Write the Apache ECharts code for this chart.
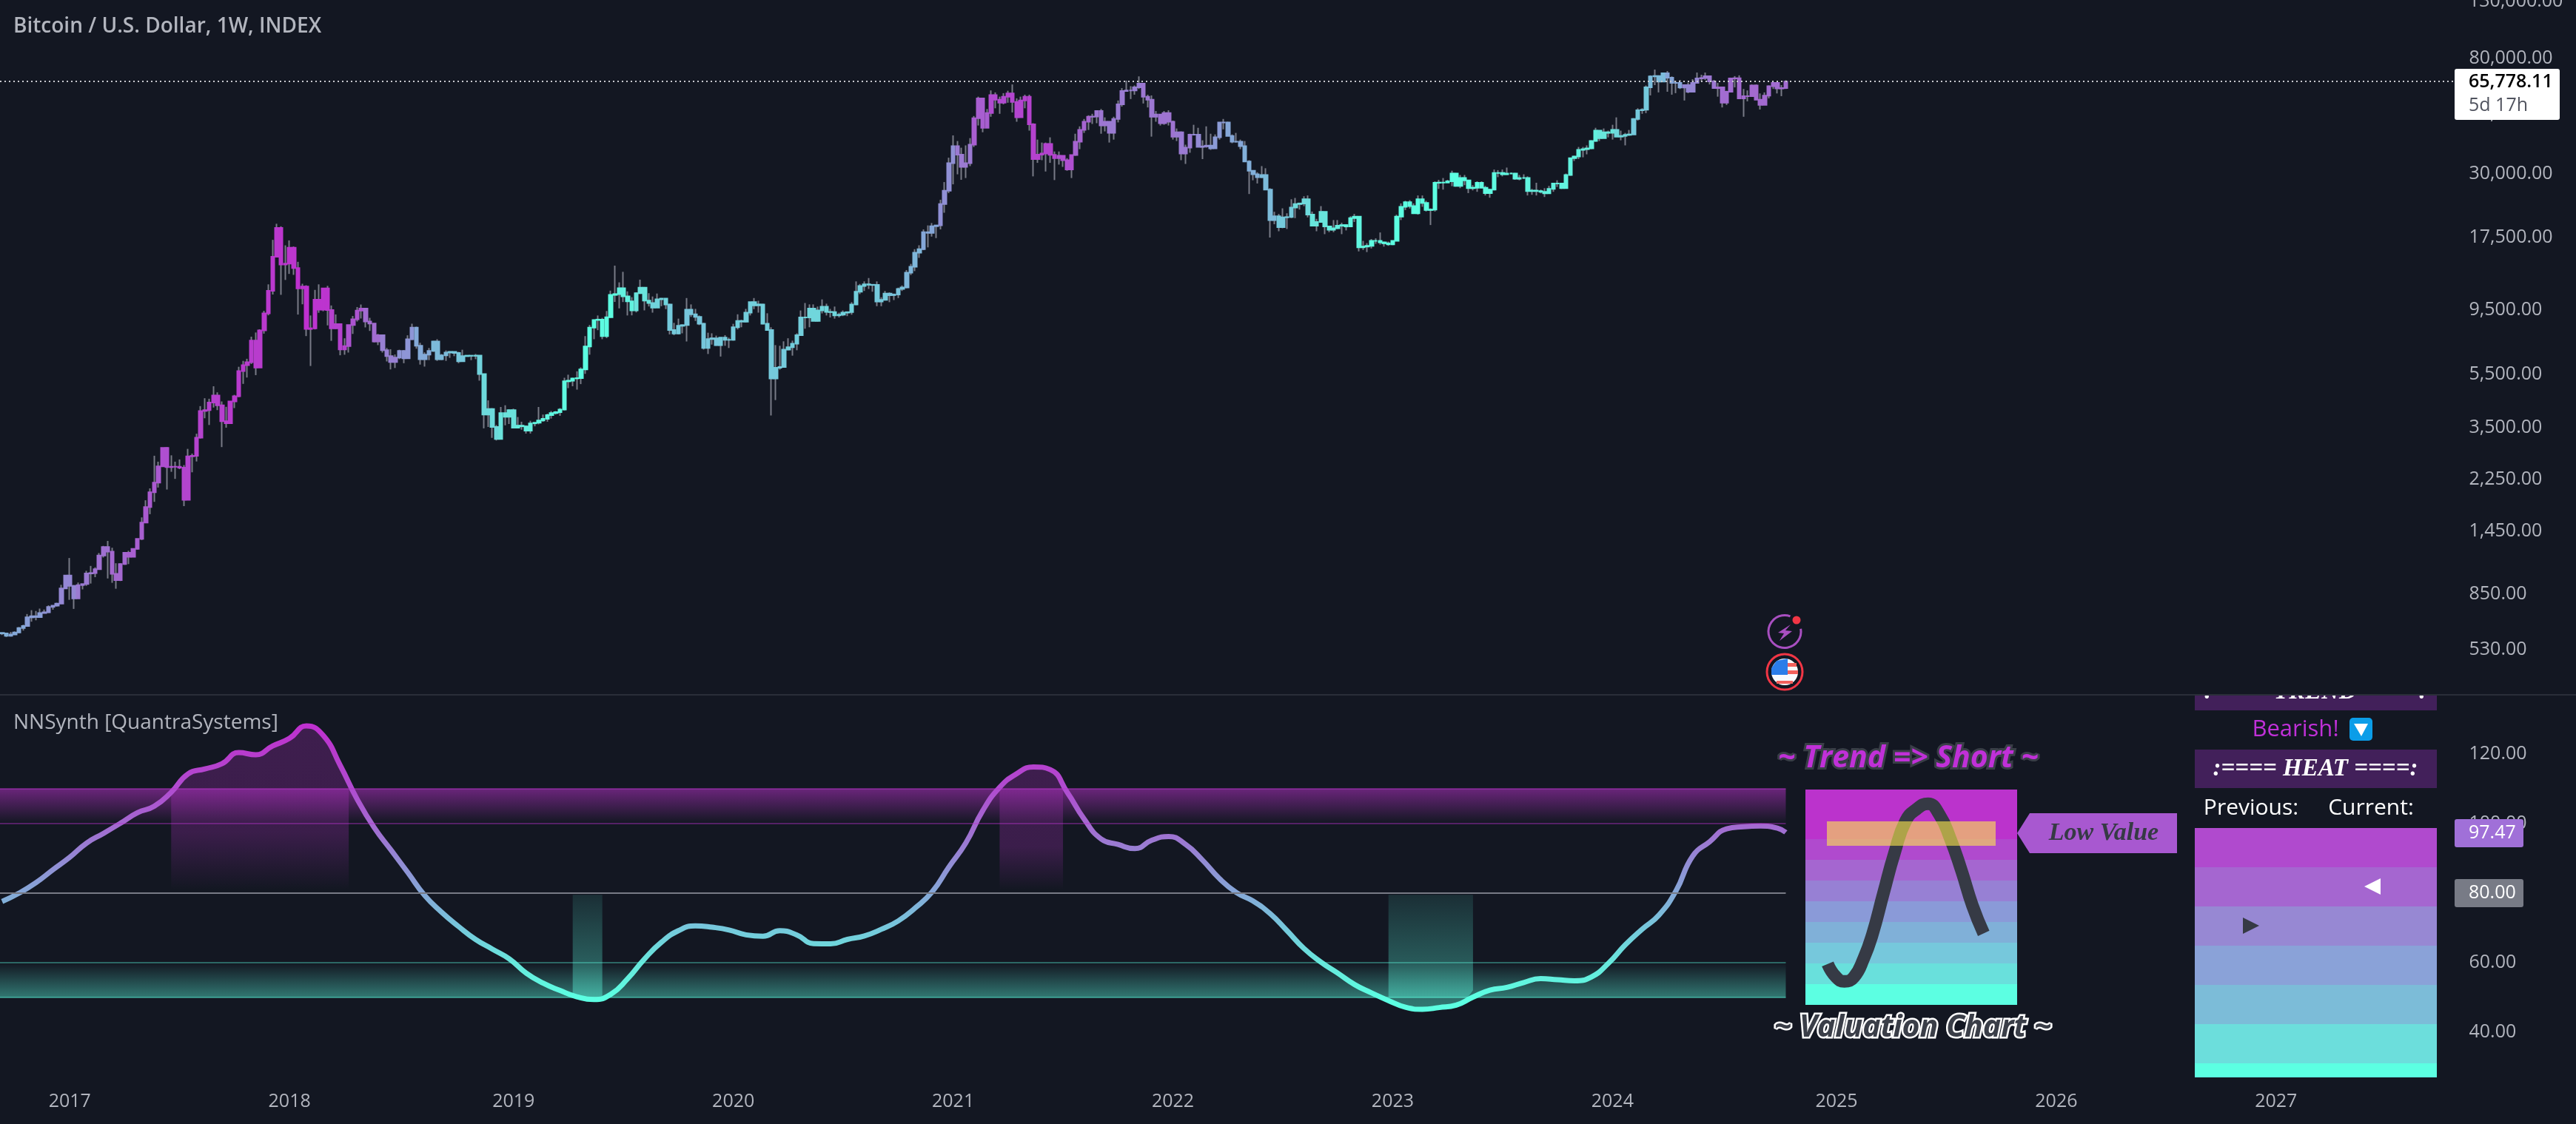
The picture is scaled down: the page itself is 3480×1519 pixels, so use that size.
<!DOCTYPE html>
<html>
<head>
<meta charset="utf-8">
<title>Bitcoin / U.S. Dollar, 1W, INDEX</title>
<script src="https://cdn.jsdelivr.net/npm/echarts@6/dist/echarts.min.js"></script>
<style>
  html, body { margin: 0; padding: 0; background: #131722; }
  #main { width: 3480px; height: 1519px; }
</style>
</head>
<body>
<div id="main"></div>
<script>
// weekly closes, highs and lows, first bar is mid Sep 2016
const closes = [
  609,597,604,614,638,649,698,705,700,724,
  729,763,771,784,892,995,912,820,918,926,
  1013,1017,1051,1179,1268,1220,1010,958,1098,1207,
  1166,1248,1358,1560,1779,2017,2188,2513,2939,2497,
  2505,2505,2486,1891,2737,2748,3207,4021,4050,4316,
  4587,4217,3684,3624,4363,4558,5640,5931,6085,7312,
  5808,7968,9206,11150,14870,19010,13930,14030,16060,13510,
  11380,11550,8060,8110,10340,9500,11380,9460,8110,8400,
  6780,6970,8330,8750,9420,9590,8590,8440,7250,7650,
  6730,6400,6090,6320,6690,6280,7390,8150,6990,6240,
  6480,6690,7250,6240,6440,6600,6640,6580,6130,6400,
  6430,6420,6430,5500,3900,4090,3510,3170,3950,3830,
  4050,3490,3550,3530,3400,3620,3640,3710,3760,3880,
  3950,3980,4070,5170,5200,5300,5310,5720,6950,8150,
  8700,8730,7590,8900,10760,10840,11390,10630,10190,9440,
  10920,11440,10250,10040,9660,10370,10430,9920,7990,7760,
  8280,8330,9500,9130,8930,8430,6860,7400,7450,7030,
  7490,7350,7350,8180,8630,8580,9260,10120,9850,9930,
  8430,7990,5300,5800,5840,6770,6900,7110,7650,8890,
  8890,9590,8630,9430,9740,9320,9300,9050,9100,9260,
  9300,9920,11060,11600,11780,11730,11710,10180,10320,10890,
  10740,10800,11320,11470,12990,13660,15390,15860,18320,18220,
  19280,19410,23260,26040,32900,38040,35400,31890,32900,38490,
  48200,57000,44420,50320,58590,56360,55020,57850,59460,55300,
  48530,56000,57850,45780,34060,35380,35730,38720,35300,34320,
  35040,33750,31180,35280,39470,43620,46770,48790,48860,51210,
  45310,46770,42540,47880,54220,60700,60950,60950,62590,64620,
  57850,56360,48790,49730,46190,50320,46770,41220,42780,35730,
  37520,41900,41900,37760,37930,38180,37330,40970,46500,46500,
  41480,39470,39470,38040,33400,30860,29940,29230,29770,26290,
  20310,20980,19110,20780,20830,22590,23250,23390,24230,21260,
  19350,19980,21790,19230,18700,18950,19350,19470,19230,20650,
  20900,16120,16220,16320,17020,17020,16810,16670,16530,17020,
  20900,22730,23630,22860,21510,24230,23490,22110,22200,27870,
  27920,27920,28210,30130,27140,29010,28460,26620,26730,27870,
  26730,25530,26290,30300,30300,29940,30130,30130,28830,29010,
  29010,25970,26080,25970,25810,25480,26440,27700,27700,26620,
  29770,34320,34840,36830,37060,37310,39700,43370,40700,42780,
  42540,43620,41220,41480,41830,42000,47880,51550,51760,62590,
  68700,68940,65800,70550,68000,64990,64990,62480,63800,60320,
  64990,67510,67780,68860,65880,62190,62590,54950,60320,67510,
  67650,57040,58100,58100,63620,56340,53930,58340,63240,64990,
  62000,62230,65778.11
];
const highs = [
  612,608,617,620,643,656,718,742,737,752,
  746,773,771,790,920,1000,1155,918,938,918,
  1036,1080,1067,1205,1280,1335,1260,1105,1105,1215,
  1228,1250,1358,1630,1885,2085,2750,2615,2939,2960,
  2760,2615,2665,2540,2915,2800,3315,4190,4480,4460,
  4958,4710,4360,4165,4363,4610,5850,6150,6260,7550,
  7825,8040,9400,11770,17170,19680,19260,16390,17090,16230,
  14250,11830,11680,9040,11230,11770,11420,11620,9840,9120,
  8450,7450,8340,9000,9710,9920,9640,8860,8450,7730,
  7660,6860,6790,6490,6760,6740,7640,8430,8220,7170,
  6610,6860,7290,7390,6520,6720,6680,6620,6640,6760,
  6440,6440,6520,6360,5510,4400,4120,3570,4160,4220,
  4080,4100,3820,3670,3560,3700,3640,4160,3900,3930,
  4020,4020,4120,5330,5470,5330,5630,5820,7590,8340,
  8740,9040,8860,9390,11160,13800,11970,13090,11090,10560,
  11010,12250,11510,10920,10620,10890,10480,10360,9990,8490,
  8800,8380,10480,9930,9560,9040,8490,7810,7770,7620,
  7490,7650,7490,8420,9130,8720,9560,10120,10480,10240,
  9990,9210,8180,7030,6990,7260,7450,7300,7770,9430,
  10050,9930,9930,9750,10360,9990,9560,9750,9260,9430,
  9330,10120,12070,11810,12070,12420,11730,12070,10550,11130,
  11000,10890,11450,11660,13290,14000,15860,16400,18760,19410,
  19800,19410,24130,28030,34470,41650,39700,37520,38270,40700,
  49090,57850,57040,52100,61000,59980,57850,59600,60830,64180,
  57040,57850,58830,58830,46190,40190,39200,39200,40970,36340,
  36340,35040,34320,35280,42240,44970,47880,49390,50020,51210,
  52100,48530,46990,48790,56000,62200,66260,63240,63620,68720,
  64990,58830,58470,51210,49730,51210,51550,47240,44170,43090,
  38490,42240,45570,44420,39950,44970,42240,42000,46500,47880,
  46770,42000,42540,40190,39700,33750,31020,30470,32100,31520,
  26620,21790,21390,22430,21510,24230,24500,23490,24860,25020,
  21830,20520,22860,19860,19350,20310,20310,19860,19620,20980,
  21390,20900,17020,16700,17290,17390,18280,16920,16920,17020,
  21260,23390,23910,24040,23390,25020,25020,23910,22430,28210,
  28570,29010,28570,30860,30300,29770,29770,28570,27310,28210,
  28210,27140,26450,31180,31020,31180,31700,30420,30300,29770,
  29940,29420,26450,27870,26290,26620,27140,27870,28460,27870,
  30130,34320,35040,37760,37760,38270,39950,44420,43370,44170,
  43370,45570,48530,43370,42540,43620,48200,52430,52430,63620,
  69320,72800,69320,70990,71890,68700,66260,66690,64180,65200,
  67090,70990,69680,70990,68860,66690,64990,62590,60830,68000,
  68860,69320,61750,61000,64180,64180,59460,59980,63620,65600,
  64990,63800,66500
];
const lows = [
  601,591,593,607,611,624,646,673,681,695,
  729,725,745,765,782,890,810,750,820,885,
  912,930,982,1050,1160,971,936,890,950,1090,
  1097,1166,1240,1345,1557,1675,1860,2100,2513,2065,
  2400,2260,2455,1794,1891,2390,2620,3183,3780,3570,
  4140,4050,2960,3490,3624,4120,4520,5060,5340,5990,
  5450,5810,7750,9050,10800,14830,10770,12220,12860,12760,
  9110,9940,7590,5890,8030,9250,9370,8310,7290,8060,
  6450,6480,6600,7730,8590,8810,8170,7930,7190,7030,
  6600,6120,5720,5790,6240,6030,6280,7340,6820,5960,
  5860,6190,6640,6150,6190,6150,6310,6400,6030,6130,
  6400,6190,6240,5200,3470,3510,3200,3130,3170,3560,
  3600,3470,3470,3430,3320,3320,3530,3590,3670,3670,
  3770,3900,3860,4040,4880,4960,4820,5050,5510,6480,
  7390,7980,7390,7460,8860,10140,9600,10130,9040,9050,
  9280,10850,9440,9760,9260,9660,9780,9540,7700,7650,
  7700,7770,7250,8930,8630,8330,6770,6520,7060,6990,
  6380,6990,6860,7300,8030,8180,8520,9040,9540,9260,
  8380,7990,3870,4410,5710,5810,6730,6430,6730,7620,
  8080,8180,8630,8580,9200,9040,8890,8800,8890,8990,
  8990,9100,9870,10840,11130,11320,11060,9780,9780,10260,
  10120,10300,10480,11130,11390,12750,13170,14740,15730,16110,
  17650,17430,18760,21610,25530,27500,29940,28570,29010,32100,
  37760,45300,42780,44700,48790,52430,50020,54220,54950,50600,
  46770,52430,52430,43370,29420,33000,33750,30660,33000,28510,
  32510,31890,30860,29010,35040,37060,42540,43620,45900,46190,
  42240,43090,39200,40190,46500,53170,60570,56700,58830,61750,
  54590,52800,41220,46770,45300,45570,45300,40200,39700,33750,
  32700,35950,41630,37760,34060,37520,36830,37310,40200,43860,
  41480,38980,39200,37060,33400,25330,28460,27700,29010,26290,
  17510,19600,18470,18950,18830,20650,20650,22200,22860,20780,
  19350,18470,19860,18020,18330,18330,18830,18020,18600,19110,
  19980,15570,15760,15480,15960,16600,16490,16210,16320,16420,
  16970,20310,22110,22400,21390,21260,22730,21840,19470,21840,
  26450,26290,27870,27080,26950,26620,27310,25530,26120,25810,
  26620,25020,24550,26120,29230,29420,29770,30000,28570,28460,
  28830,25020,25170,25020,25480,24700,25970,25810,26900,26440,
  26620,29600,33530,34060,34590,35470,37060,39470,39700,40700,
  40970,40200,41220,39950,38270,41480,42000,47240,50020,50320,
  58470,63800,59980,68000,60320,58830,59600,61750,56000,59600,
  59980,64990,65800,66690,64180,62190,57850,52800,53930,59980,
  62590,56700,48790,55600,57850,56340,51880,53930,57040,61750,
  59460,58100,61750
];

// NNSynth oscillator, one reading every 4 bars, then the last bar
const oscStep = 4;
const oscValues = [
  77.6,80,83,86.7,90.3,94.4,97.2,100.1,103.1,105,
  109,114.3,115.7,117.2,120.4,119.8,122.3,124.5,128.1,125.3,
  116.7,107,98.9,92.4,85.9,79.3,74.5,70.4,66.7,63.9,
  61.1,57,54.1,52,50.2,49.4,50.9,55.4,61.1,65.9,
  69.2,70.6,70.2,69.4,68,67.6,69.2,68,65.5,65.4,
  66.7,67.7,69.6,72,75.7,80.3,87.5,94.4,103.7,110.4,
  114.3,116.3,115.5,109,101.3,95.6,94,92.8,95.2,96.3,
  94,89.5,84.2,80.2,77.7,74.1,69.2,64.1,60.2,57,
  53.7,51.3,49.1,47.2,46.6,47.1,47.8,50.1,52.1,52.9,
  54.3,55.4,55.1,54.8,55.9,59.8,65.1,69.6,73.7,80.6,
  90.7,94.8,98.5,99.1,99.3,98.7
];
const oscLast = 97.47;
const lastBar = 422;

// shaded stretches: first bar, last bar, reading at each end
const hotZones = [[40, 82, 109, 112], [236, 251, 110.4, 110.6]];
const coldZones = [[135, 142, 51, 49.7], [328, 348, 49.1, 52.1]];
const zoneBaseHot = 81;
const zoneBaseCold = 79.5;

const yearLabels = ['2017','2018','2019','2020','2021','2022','2023','2024','2025','2026','2027'];
const yearBars = [16,68,121,173,225,277,329,381,434,486,538];
const priceTicks = [80000,50000,30000,17500,9500,5500,3500,2250,1450,850,530];
const topPriceTick = '130,000.00';
const oscTicks = [40,60,80,100,120];
const lastPrice = 65778.11;

// small valuation curve in the table, % of the box
const curveX = [10.5,14.5,18.4,22.9,27.6,31.6,36.8,42.1,47.4,52.6,57.9,63.2,68.4,73.7,78.9,84.2];
const curveY = [19,12.9,10.9,12.9,21.7,32.6,51.6,70.6,85.5,91,93.4,88.5,77.3,62.4,46.1,33.2];

const heatColors = ['#5cffe2','#68e6dc','#76c8dc','#85a8d8','#9488d4','#a468d0','#b04cd0','#b83ccd','#c02ed0'];
const valuationBands = ['#bb33cc','#b04ace','#a566d0','#9780d4','#8a9ad8','#80b0d8','#76c8dc','#69e0dc','#5cffe2'];
const valuationEdges = [1067,1134,1162,1190,1218,1246,1274,1302,1330,1358];
const heatBands = ['#b04ace','#a566d0','#9788d3','#8aa2d8','#7cbcd8','#6cdedc','#5cffe2'];
const heatEdges = [1119,1172,1225,1278,1331,1384,1437,1456];

const axisColor = '#b2b5be';
const font = '"Open Sans", "Noto Sans", sans-serif';
const slots = 581;

const categories = [];
for (let i = 0; i < slots; i++) {
  const y = yearBars.indexOf(i);
  categories.push(y >= 0 ? yearLabels[y] : '');
}

function oscAt(i) {
  const k = Math.min(Math.round(i / oscStep), oscValues.length - 1);
  return oscValues[k];
}
function heatColor(v) {
  const t = Math.max(0, Math.min(1, (v - 50) / 80));
  return echarts.color.lerp(t, heatColors);
}

const wicks = [];
const bodies = [];
closes.forEach((c, i) => {
  const o = i ? closes[i - 1] : c * 1.005;
  const col = heatColor(oscAt(i));
  wicks.push([o, c, lows[i], highs[i]]);
  bodies.push({
    value: [o, c, Math.min(o, c), Math.max(o, c)],
    itemStyle: { color: col, color0: col, borderColor: col, borderColor0: col }
  });
});

const oscLine = oscValues.map((v, k) => [k * oscStep, v]);
oscLine.push([lastBar, oscLast]);

function zoneData(z) {
  const d = [[z[0], z[2]]];
  oscValues.forEach((v, k) => {
    const b = k * oscStep;
    if (b > z[0] && b < z[1]) d.push([b, v]);
  });
  d.push([z[1], z[3]]);
  return d;
}
function grad(stops) {
  return new echarts.graphic.LinearGradient(0, 0, 0, 1, stops.map(s => ({ offset: s[0], color: s[1] })));
}
function zoneSeries(z, base, stops) {
  return {
    type: 'line', xAxisIndex: 1, yAxisIndex: 1, data: zoneData(z), smooth: true,
    showSymbol: false, silent: true, z: 1,
    lineStyle: { width: 0, opacity: 0 },
    areaStyle: { origin: base, color: grad(stops), opacity: 1 }
  };
}
function level(v, color) {
  return [{ x: 0, yAxis: v, lineStyle: { color, width: 2, type: 'solid' } }, { coord: [lastBar, v] }];
}

function text(str, x, y, size, fill, extra) {
  return {
    type: 'text', z: 30, silent: true,
    style: Object.assign({ text: str, x, y, fill, font: size + 'px ' + font, textAlign: 'center', textVerticalAlign: 'middle' }, extra || {})
  };
}
function rect(x, y, w, h, fill, z, r) {
  return { type: 'rect', z: z || 1, silent: true, shape: { x, y, width: w, height: h, r: r || 0 }, style: { fill } };
}
function poly(points, fill, z) {
  return { type: 'polygon', z: z || 30, silent: true, shape: { points }, style: { fill } };
}
function leftText(str, x, y, size, fill, weight) {
  return text(str, x, y, size, fill, { textAlign: 'left', font: (weight ? weight + ' ' : '') + size + 'px ' + font });
}

const graphics = [];

// valuation box on the left
valuationBands.forEach((c, i) => {
  graphics.push(rect(2439, valuationEdges[i], 286, valuationEdges[i + 1] - valuationEdges[i], c, 1));
});
graphics.push(rect(2468, 1110, 228, 33, 'rgba(255,233,77,0.6)', 5));
graphics.push(text('~ Trend => Short ~', 2578, 1025, 41, '#c030d8', {
  font: 'italic bold 41px ' + font, stroke: '#3a3e48', lineWidth: 6
}));
graphics.push(text('~ Valuation Chart ~', 2584, 1389, 41, '#3a3e48', {
  font: 'italic bold 41px ' + font, stroke: '#ffffff', lineWidth: 5
}));
graphics.push(poly([[2725, 1126], [2742, 1099], [2941, 1099], [2941, 1153], [2742, 1153]], '#a858d0'));
graphics.push(text('Low Value', 2842, 1126, 34, '#363a45', {
  font: 'italic bold 34px "Liberation Serif", serif'
}));

// right hand heat table
graphics.push(rect(2965, 939, 327, 21, '#42205a', 20));
graphics.push(text(':==== TREND ====:', 3128, 935, 33, '#ffffff', {
  font: 'italic bold 33px "Liberation Serif", serif'
}));
graphics.push(rect(2965, 895, 327, 44, '#131722', 32));
graphics.push(text('Bearish!', 3101, 986, 31, '#c030d8'));
graphics.push(rect(3174, 970, 31, 31, '#0b9de8', 30, 5));
graphics.push(poly([[3180, 978], [3199, 978], [3190, 995]], '#ffffff', 31));
graphics.push(rect(2965, 1013, 327, 52, '#42205a', 20));
graphics.push(text(':==== HEAT ====:', 3128, 1039, 33, '#ffffff', {
  font: 'italic bold 33px "Liberation Serif", serif'
}));
graphics.push(text('Previous:', 3041, 1092, 30, '#ffffff'));
graphics.push(text('Current:', 3203, 1092, 30, '#ffffff'));
heatBands.forEach((c, i) => {
  graphics.push(rect(2965, heatEdges[i], 327, heatEdges[i + 1] - heatEdges[i], c, 1));
});
graphics.push(poly([[3194, 1198], [3216, 1187], [3216, 1209]], '#ffffff'));
graphics.push(poly([[3052, 1251], [3030, 1240], [3030, 1262]], '#363a45'));

// labels on the right axes
graphics.push(leftText(topPriceTick, 3335, 2, 25, axisColor));
graphics.push(rect(3316, 93, 142, 69, '#ffffff', 40, 3));
graphics.push(Object.assign(leftText('65,778.11', 3335, 111, 25, '#000000', 600), { z: 41 }));
graphics.push(Object.assign(leftText('5d 17h', 3335, 143, 25, '#50535e'), { z: 41 }));
graphics.push(rect(3316, 1107, 93, 38, '#a070d8', 40, 3));
graphics.push(Object.assign(leftText('97.47', 3335, 1126, 25, '#ffffff'), { z: 41 }));
graphics.push(rect(3316, 1188, 93, 38, '#787b86', 40, 3));
graphics.push(Object.assign(leftText('80.00', 3335, 1207, 25, '#ffffff'), { z: 41 }));

// pane separator
graphics.push({
  type: 'line', z: 33, silent: true,
  shape: { x1: 0, y1: 939, x2: 3480, y2: 939 }, style: { stroke: '#2a2e39', lineWidth: 2 }
});

// pane titles
graphics.push(leftText('Bitcoin / U.S. Dollar, 1W, INDEX', 18, 36, 28, axisColor, 600));
graphics.push(leftText('NNSynth [QuantraSystems]', 18, 977, 28, axisColor));

// event icons
graphics.push({
  type: 'arc', z: 30, silent: true,
  shape: { cx: 2411, cy: 853.5, r: 22, startAngle: -0.17, endAngle: 5.06 },
  style: { stroke: '#a84fc0', lineWidth: 3, fill: 'none' }
});
graphics.push(poly([[2419, 844], [2402, 855], [2410, 856], [2404, 866], [2421, 853], [2412, 852]], '#a84fc0'));
graphics.push({ type: 'circle', z: 30, silent: true, shape: { cx: 2427, cy: 838, r: 5.5 }, style: { fill: '#f23645' } });
graphics.push({ type: 'circle', z: 30, silent: true, shape: { cx: 2411, cy: 908, r: 24 }, style: { fill: 'none', stroke: '#f23645', lineWidth: 3 } });
graphics.push({ type: 'circle', z: 30, silent: true, shape: { cx: 2411, cy: 908, r: 18 }, style: { fill: '#f8f9fd' } });
graphics.push(poly([[2400, 893], [2415, 890], [2415, 912], [2393, 912], [2393, 903]], '#2b7de9', 31));
graphics.push(rect(2415, 896, 12, 5, '#f2605c', 31));
graphics.push(rect(2415, 906, 14, 5, '#f2605c', 31));
graphics.push(rect(2400, 920, 22, 4, '#f2605c', 31));

const chart = echarts.init(document.getElementById('main'), null, { renderer: 'canvas' });
chart.setOption({
  animation: false,
  backgroundColor: '#131722',
  textStyle: { fontFamily: font },
  grid: [
    { left: 0, top: 6.77, width: 3317.5, height: 953.7 },
    { left: 0, top: 925, width: 3317.5, height: 564 },
    { left: 2439, top: 1067, width: 286, height: 291 }
  ],
  xAxis: [
    { type: 'category', gridIndex: 0, data: categories, show: false },
    {
      type: 'category', gridIndex: 1, data: categories,
      axisLine: { show: false }, axisTick: { show: false }, splitLine: { show: false },
      axisLabel: {
        color: axisColor, fontSize: 25, fontFamily: font, margin: 0, verticalAlign: 'middle',
        padding: [2, 0, 0, 0],
        interval: (i, v) => v !== '', hideOverlap: false
      }
    },
    { type: 'value', gridIndex: 2, min: 0, max: 100, show: false }
  ],
  yAxis: [
    {
      type: 'log', gridIndex: 0, position: 'right', min: 316.2278, max: 125892.5,
      axisLine: { show: false }, axisTick: { show: false }, splitLine: { show: false },
      axisLabel: {
        customValues: priceTicks, color: axisColor, fontSize: 25, fontFamily: font, margin: 18,
        padding: [4, 0, 0, 0],
        formatter: v => Number(v).toLocaleString('en-US', { minimumFractionDigits: 2, maximumFractionDigits: 2 })
      }
    },
    {
      type: 'value', gridIndex: 1, position: 'right', min: 20, max: 140, interval: 20,
      axisLine: { show: false }, axisTick: { show: false }, splitLine: { show: false },
      axisLabel: {
        customValues: oscTicks, color: axisColor, fontSize: 25, fontFamily: font, margin: 18,
        padding: [4, 0, 0, 0],
        formatter: v => Number(v).toFixed(2)
      }
    },
    { type: 'value', gridIndex: 2, min: 0, max: 100, show: false }
  ],
  visualMap: {
    show: false, type: 'continuous', seriesIndex: 7, dimension: 1,
    min: 50, max: 130, inRange: { color: heatColors }
  },
  series: [
    {
      type: 'candlestick', xAxisIndex: 0, yAxisIndex: 0, barWidth: 1, data: wicks, silent: true, z: 2,
      itemStyle: { color: '#787b86', color0: '#787b86', borderColor: '#787b86', borderColor0: '#787b86', borderWidth: 2 }
    },
    {
      type: 'candlestick', xAxisIndex: 0, yAxisIndex: 0, barWidth: 5, data: bodies, silent: true, z: 3,
      itemStyle: { borderWidth: 2 },
      markLine: {
        silent: true, symbol: 'none', animation: false, label: { show: false },
        lineStyle: { color: '#c8c9cf', width: 2, type: [2, 4] },
        data: [[{ x: 0, yAxis: lastPrice }, { coord: [slots - 1, lastPrice] }]]
      }
    },
    {
      // bands and level lines of the oscillator
      type: 'line', xAxisIndex: 1, yAxisIndex: 1, data: [], silent: true, z: 1,
      markArea: {
        silent: true, animation: false, label: { show: false },
        data: [
          [
            { x: 0, yAxis: 110, itemStyle: { color: grad([[0, 'rgba(186,50,204,0.52)'], [1, 'rgba(186,50,204,0)']]) } },
            { xAxis: lastBar, yAxis: 100 }
          ],
          [
            { x: 0, yAxis: 60, itemStyle: { color: grad([[0, 'rgba(92,255,226,0)'], [1, 'rgba(92,255,226,0.42)']]) } },
            { xAxis: lastBar, yAxis: 50 }
          ]
        ]
      },
      markLine: {
        silent: true, symbol: 'none', animation: false, label: { show: false },
        data: [
          level(110, 'rgba(186,50,204,0.45)'),
          level(100, 'rgba(186,50,204,0.4)'),
          level(80, '#787b86'),
          level(60, 'rgba(92,255,226,0.35)'),
          level(50, 'rgba(92,255,226,0.4)')
        ]
      }
    },
    zoneSeries(hotZones[0], zoneBaseHot, [[0, 'rgba(186,50,204,0.26)'], [0.65, 'rgba(186,50,204,0.24)'], [1, 'rgba(186,50,204,0)']]),
    zoneSeries(hotZones[1], zoneBaseHot, [[0, 'rgba(186,50,204,0.26)'], [0.65, 'rgba(186,50,204,0.24)'], [1, 'rgba(186,50,204,0)']]),
    zoneSeries(coldZones[0], zoneBaseCold, [[0, 'rgba(92,255,226,0.1)'], [1, 'rgba(92,255,226,0.42)']]),
    zoneSeries(coldZones[1], zoneBaseCold, [[0, 'rgba(92,255,226,0.1)'], [1, 'rgba(92,255,226,0.42)']]),
    {
      type: 'line', xAxisIndex: 1, yAxisIndex: 1, data: oscLine, smooth: true, showSymbol: false,
      silent: true, z: 4, lineStyle: { width: 7 }
    },
    {
      type: 'line', xAxisIndex: 2, yAxisIndex: 2, data: curveX.map((x, i) => [x, curveY[i]]),
      smooth: true, showSymbol: false, silent: true, z: 3,
      lineStyle: { width: 17, color: '#363a45', cap: 'butt' }
    }
  ],
  graphic: { elements: graphics }
});
</script>
</body>
</html>
